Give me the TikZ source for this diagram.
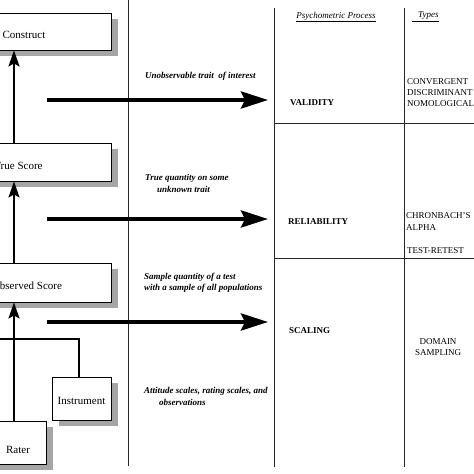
\documentclass[tikz,border=0pt]{standalone}
\usepackage{fontspec}
\setmainfont{Liberation Serif}
\usetikzlibrary{arrows.meta,shadows}
\begin{document}
\begin{tikzpicture}[x=1pt,y=-1pt,
  box/.style={draw=black, line width=0.9pt, fill=white, inner sep=0pt,
    font=\fontsize{11}{13}\selectfont, text depth=0pt,
    drop shadow={shadow xshift=7pt, shadow yshift=-6pt, fill=black!35, opacity=1}},
  varrow/.style={line width=2pt, -{Stealth[length=16pt,width=11pt,inset=3pt]}},
  harrow/.style={line width=4pt, -{Stealth[length=27pt,width=17pt,inset=4pt]}},
  rule/.style={line width=0.8pt, draw=black!85},
  link/.style={line width=1.7pt},
  midtxt/.style={anchor=west, inner sep=0pt, font=\fontsize{9}{10}\selectfont\bfseries\itshape},
  proc/.style={anchor=west, inner sep=0pt, font=\fontsize{9}{10}\selectfont\bfseries},
  typ/.style={anchor=west, inner sep=0pt, font=\fontsize{9}{10}\selectfont},
  hdr/.style={inner sep=0pt, font=\fontsize{9}{10}\selectfont\itshape}
]
\useasboundingbox (0,0) rectangle (474,474);
\fill[white] (0,0) rectangle (474,474);

% table rules
\draw[rule] (128,0) -- (128,466);
\draw[rule] (274,8) -- (274,467);
\draw[rule] (404,8) -- (404,467);
\draw[rule] (274,123) -- (474,123);
\draw[rule] (274,258) -- (474,258);

% boxes
\node[box, minimum width=174pt, minimum height=37pt, text height=14.3pt] (construct) at (24,31.5) {Construct};
\node[box, minimum width=185pt, minimum height=38pt, text height=15.3pt] (truescore) at (18.5,162) {True Score};
\node[box, minimum width=168pt, minimum height=39pt, text height=14.3pt] (observed) at (27,282.5) {Observed Score};
\node[box, minimum width=59pt, minimum height=43pt, text height=12.3pt] (instrument) at (81.5,398.5) {Instrument};
\node[box, minimum width=56pt, minimum height=43pt, text height=22.3pt] (rater) at (18,442.5) {Rater};

% vertical arrows
\coordinate (ax) at (14,0);
\draw[varrow] (truescore.north -| ax) -- (construct.south -| ax);
\draw[varrow] (observed.north -| ax) -- (truescore.south -| ax);
\draw[varrow] (rater.north -| ax) -- (observed.south -| ax);
\coordinate (jn) at (-5,339);
\draw[link] ([xshift=-2.5pt]instrument.north) |- (jn);

% horizontal arrows
\coordinate (h1s) at (47,100);
\coordinate (h1e) at (268,100);
\coordinate (h2s) at (47,219);
\coordinate (h2e) at (268,219);
\coordinate (h3s) at (47,322);
\coordinate (h3e) at (268,322);
\draw[harrow] (h1s) -- (h1e);
\draw[harrow] (h2s) -- (h2e);
\draw[harrow] (h3s) -- (h3e);

% middle texts
\node[midtxt] (m1) at (145,76) {Unobservable trait\ \ of interest};
\node[midtxt] (m2a) at (145,178) {True quantity on some};
\node[midtxt] (m2b) at (157,189) {unknown trait};
\node[midtxt] (m3a) at (144,277) {Sample quantity of a test};
\node[midtxt] (m3b) at (144,288) {with a sample of all populations};
\node[midtxt] (m4a) at (144,391) {Attitude scales, rating scales, and};
\node[midtxt] (m4b) at (159,402) {observations};

% headers
\node[hdr] (h1) at (336,17) {\underline{Psychometric Process}};
\node[hdr, anchor=west] (h2) at (412,17) {\underline{\hspace{6pt}Types}};

% process names
\node[proc] (p1) at (290,103) {VALIDITY};
\node[proc] (p2) at (288,222) {RELIABILITY};
\node[proc] (p3) at (289,331) {SCALING};

% types
\node[typ] (t1a) at (407,82) {CONVERGENT};
\node[typ] (t1b) at (407,93) {DISCRIMINANT};
\node[typ] (t1c) at (407,104) {NOMOLOGICAL};
\node[typ] (t2a) at (406,216) {CHRONBACH'S};
\node[typ] (t2b) at (406,228) {ALPHA};
\node[typ] (t2c) at (407,251) {TEST-RETEST};
\node[typ, anchor=center] (t3a) at (438,342) {DOMAIN};
\node[typ, anchor=center] (t3b) at (438,353) {SAMPLING};
\end{tikzpicture}
\end{document}
